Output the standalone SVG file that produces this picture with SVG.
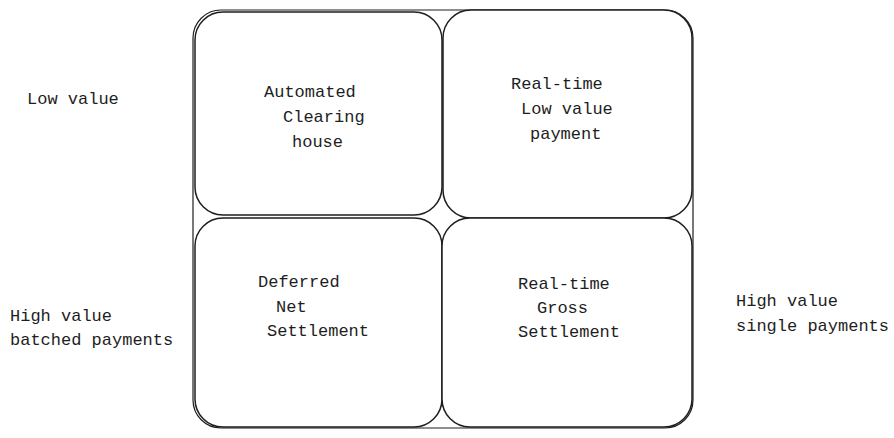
<svg xmlns="http://www.w3.org/2000/svg" width="894" height="438" viewBox="0 0 894 438">
<style>
.b{fill:#fff;stroke:#1e1e1e;stroke-width:1.5}
.o{fill:none;stroke:#1e1e1e;stroke-width:1.2}
text{font-family:"Liberation Mono",monospace;font-size:17px;fill:#1e1e1e}
</style>
<rect width="894" height="438" fill="#fff"/>
<g id="outer"><rect class="o" x="193" y="10" width="500" height="418" rx="28"/></g>
<g id="ach"><rect class="b" x="195" y="12" width="247" height="203" rx="28"/>
<text x="264" y="97">Automated</text><text x="283" y="122">Clearing</text><text x="292" y="147">house</text></g>
<g id="rtlv"><rect class="b" x="443" y="10" width="249" height="208" rx="28"/>
<text x="511" y="89">Real-time</text><text x="521" y="114">Low value</text><text x="530" y="139">payment</text></g>
<g id="dns"><rect class="b" x="195" y="218" width="247" height="209" rx="28"/>
<text x="258" y="287">Deferred</text><text x="276" y="312">Net</text><text x="267" y="336">Settlement</text></g>
<g id="rtgs"><rect class="b" x="442" y="218" width="250" height="209" rx="28"/>
<text x="518" y="289">Real-time</text><text x="537" y="313">Gross</text><text x="518" y="337">Settlement</text></g>
<g id="labels">
<text x="27" y="104">Low value</text>
<text x="10" y="321">High value</text><text x="10" y="345">batched payments</text>
<text x="736" y="306">High value</text><text x="736" y="331">single payments</text>
</g>
<g id="connectors"></g>
</svg>
